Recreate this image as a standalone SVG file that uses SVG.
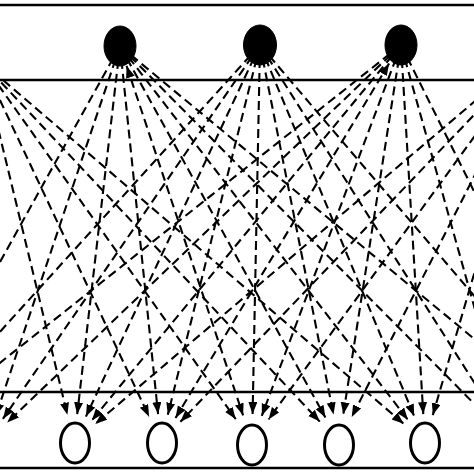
<svg xmlns="http://www.w3.org/2000/svg" width="474" height="474" viewBox="0 0 474 474">
<style>
.bg{fill:#ffffff}
.rule{stroke:#000;stroke-width:2.4;fill:none}
.e{stroke:#000;stroke-width:2.1;stroke-dasharray:9 5;fill:none;marker-end:url(#ah)}
.both{marker-start:url(#ahs)}
.top{fill:#000;stroke:#000;stroke-width:1}
.bot{fill:#fff;stroke:#000;stroke-width:3}
</style>
<defs>
<marker id="ah" markerUnits="userSpaceOnUse" markerWidth="13" markerHeight="10" refX="12" refY="4.5" orient="auto">
<path d="M0,0 L12,4.5 L0,9 Z" fill="#000"/>
</marker>
<marker id="ahs" markerUnits="userSpaceOnUse" markerWidth="13" markerHeight="10" refX="12" refY="4.5" orient="auto-start-reverse">
<path d="M0,0 L12,4.5 L0,9 Z" fill="#000"/>
</marker>
</defs>
<rect class="bg" x="0" y="0" width="474" height="474"/>
<g id="frame">
<line class="rule" x1="0" y1="5" x2="474" y2="5"/>
<line class="rule" x1="0" y1="80" x2="474" y2="80"/>
<line class="rule" x1="0" y1="392" x2="474" y2="392"/>
<line class="rule" x1="0" y1="468" x2="474" y2="468"/>
</g>
<g id="connectors">
<line class="e" x1="-18" y1="62" x2="67.4" y2="414.8"/>
<line class="e" x1="-18" y1="62" x2="149.1" y2="416.7"/>
<line class="e" x1="-18" y1="62" x2="235.8" y2="419.2"/>
<line class="e" x1="-18" y1="62" x2="319.8" y2="421.6"/>
<line class="e" x1="-18" y1="62" x2="403.7" y2="423.8"/>
<line class="e" x1="120" y1="46" x2="-86.4" y2="417.5"/>
<line class="e" x1="120" y1="46" x2="-4.1" y2="415.5"/>
<line class="e" x1="120" y1="46" x2="77.2" y2="414.2"/>
<line class="e" x1="120" y1="46" x2="158.1" y2="414.1"/>
<line class="e both" x1="126.6" y1="65.9" x2="243.1" y2="415.4"/>
<line class="e" x1="120" y1="46" x2="325.4" y2="417.5"/>
<line class="e" x1="120" y1="46" x2="407.9" y2="419.8"/>
<line class="e" x1="120" y1="46" x2="492.3" y2="422.1"/>
<line class="e" x1="120" y1="46" x2="577.4" y2="424.2"/>
<line class="e" x1="260" y1="45" x2="-81.2" y2="421.3"/>
<line class="e" x1="260" y1="45" x2="2.9" y2="418.9"/>
<line class="e" x1="260" y1="45" x2="85.9" y2="416.6"/>
<line class="e" x1="260" y1="45" x2="167.8" y2="414.8"/>
<line class="e" x1="260" y1="45" x2="252.6" y2="414"/>
<line class="e" x1="260" y1="45" x2="333.5" y2="414.5"/>
<line class="e" x1="260" y1="45" x2="414.2" y2="416.2"/>
<line class="e" x1="260" y1="45" x2="497" y2="418.4"/>
<line class="e" x1="260" y1="45" x2="580.8" y2="420.7"/>
<line class="e" x1="401" y1="45" x2="-78" y2="424.6"/>
<line class="e" x1="401" y1="45" x2="7.2" y2="422.6"/>
<line class="e" x1="401" y1="45" x2="91.8" y2="420.4"/>
<line class="e both" x1="389.1" y1="63.5" x2="175.5" y2="418"/>
<line class="e" x1="401" y1="45" x2="261.8" y2="415.8"/>
<line class="e" x1="401" y1="45" x2="343.3" y2="414.3"/>
<line class="e" x1="401" y1="45" x2="423.3" y2="414.1"/>
<line class="e" x1="401" y1="45" x2="504.5" y2="415"/>
<line class="e" x1="401" y1="45" x2="586.5" y2="417"/>
<line class="e" x1="541" y1="45" x2="95.3" y2="423.9"/>
<line class="e" x1="541" y1="45" x2="180.4" y2="421.8"/>
<line class="e" x1="541" y1="45" x2="268.5" y2="419.4"/>
<line class="e" x1="541" y1="45" x2="351.7" y2="417.1"/>
<line class="e" x1="541" y1="45" x2="432.8" y2="415.1"/>
</g>
<g id="t1"><ellipse class="top" cx="120" cy="46" rx="16" ry="20"/></g>
<g id="t2"><ellipse class="top" cx="260" cy="45" rx="16.5" ry="20"/></g>
<g id="t3"><ellipse class="top" cx="401" cy="45" rx="16" ry="20"/></g>
<g id="b1"><ellipse class="bot" cx="75" cy="443" rx="14.5" ry="20"/></g>
<g id="b2"><ellipse class="bot" cx="162" cy="443" rx="14.5" ry="20"/></g>
<g id="b3"><ellipse class="bot" cx="252" cy="445" rx="14.5" ry="20"/></g>
<g id="b4"><ellipse class="bot" cx="339" cy="445" rx="14.5" ry="20"/></g>
<g id="b5"><ellipse class="bot" cx="425" cy="443" rx="14.5" ry="20"/></g>
</svg>
